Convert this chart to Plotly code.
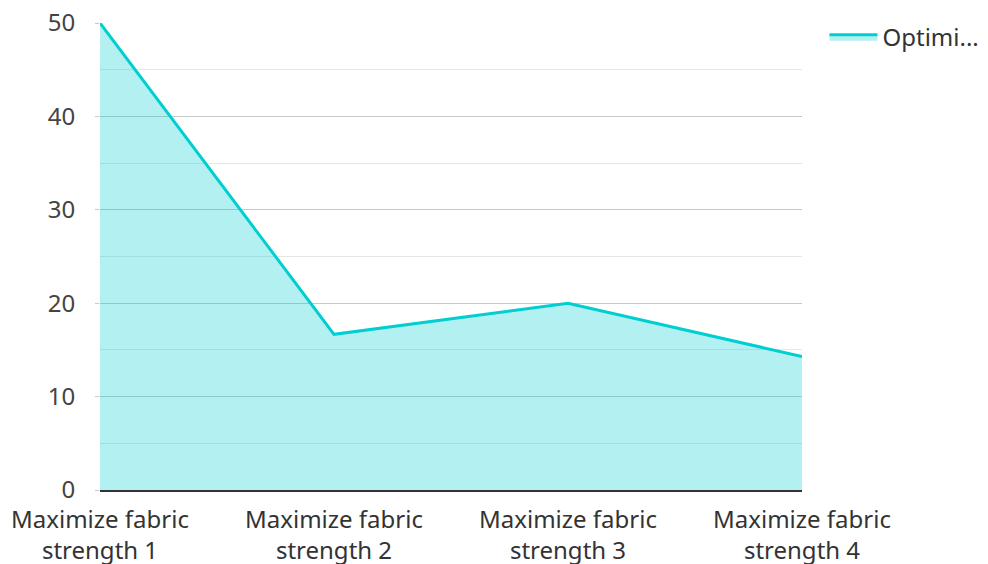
import plotly.graph_objects as go

categories = ["Maximize fabric<br>strength 1", "Maximize fabric<br>strength 2",
              "Maximize fabric<br>strength 3", "Maximize fabric<br>strength 4"]
values = [50, 16.67, 20, 14.29]
series_name = "Optimi..."

fig = go.Figure()
fig.add_trace(go.Scatter(
    x=categories, y=values, name=series_name, mode="lines",
    line=dict(color="#00CED1", width=3),
    fill="tozeroy", fillcolor="rgba(0,206,209,0.3)",
))

fig.update_layout(
    width=988, height=564,
    margin=dict(l=100, r=186, t=23, b=74, autoexpand=False),
    paper_bgcolor="white", plot_bgcolor="white",
    font=dict(family="Noto Sans", size=24, color="#444444"),
    showlegend=True,
    legend=dict(x=1.032, y=1.018, xanchor="left", yanchor="top",
                font=dict(size=24, color="#333333"), bgcolor="rgba(0,0,0,0)",
                itemwidth=48),
)
fig.update_xaxes(
    type="category", range=[0, 3], showgrid=False, automargin=False,
    showline=True, linecolor="#333333", linewidth=2,
    ticks="", ticklabelstandoff=7,
    tickfont=dict(size=24, color="#333333"),
)
fig.update_yaxes(
    range=[0, 50], dtick=10, showgrid=True, gridcolor="#c8c8c8", gridwidth=1,
    zeroline=False, showline=False, automargin=False,
    ticks="outside", ticklen=4, tickcolor="#c8c8c8",
    ticklabelstandoff=15,
    tickfont=dict(size=24, color="#444444"),
    minor=dict(dtick=5, showgrid=True, gridcolor="#e6e6e6", ticks=""),
)

fig.write_html("out.html")
